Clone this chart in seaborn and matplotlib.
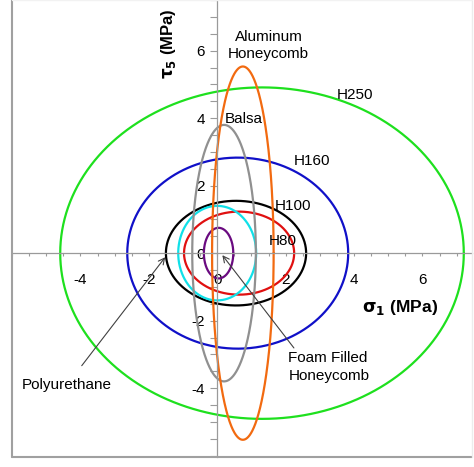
import numpy as np
import pandas as pd
import seaborn as sns
import matplotlib
matplotlib.use("Agg")
import matplotlib.pyplot as plt
from matplotlib.ticker import MultipleLocator
from matplotlib.lines import Line2D

# ---- data (ellipse envelopes) ----
series = ["H250", "H160", "H100", "H80", "Polyurethane", "Foam Filled Honeycomb", "Balsa", "Aluminum Honeycomb"]
center_x = [1.31, 0.60, 0.55, 0.64, 0.00, 0.04, 0.20, 0.75]
semi_x = [5.90, 3.23, 2.05, 1.61, 1.14, 0.43, 0.93, 0.90]
semi_y = [4.91, 2.83, 1.55, 1.23, 1.40, 0.75, 3.80, 5.53]
colors = ["#1ee01e", "#1010c8", "#000000", "#e01010", "#10e0e8", "#6a0a80", "#909090", "#f26a10"]

x_ticks = [-4, -2, 0, 2, 4, 6]
y_ticks = [-4, -2, 0, 2, 4, 6]

t = np.linspace(0, 2 * np.pi, 721)
frames = []
for name, cx, a, b in zip(series, center_x, semi_x, semi_y):
    frames.append(pd.DataFrame({"s1": cx + a * np.cos(t), "t5": b * np.sin(t), "series": name}))
df = pd.concat(frames, ignore_index=True)

sns.set_theme(style="white")
plt.rcParams["font.family"] = ["Liberation Sans", "DejaVu Sans"]
plt.rcParams["mathtext.fontset"] = "dejavusans"
plt.rcParams["text.color"] = "black"
plt.rcParams["xtick.labelcolor"] = "black"
plt.rcParams["ytick.labelcolor"] = "black"

fig = plt.figure(figsize=(4.74, 4.67), dpi=100)
ax = fig.add_axes([12 / 474, 10 / 467, 460 / 474, 457 / 467])

sns.lineplot(data=df, x="s1", y="t5", hue="series", hue_order=series,
             palette=dict(zip(series, colors)), sort=False, estimator=None,
             linewidth=1.6, legend=False, ax=ax)

ax.set_xlim(-6.0, 7.45)
ax.set_ylim(-6.04, 7.5)
ax.set_xlabel("")
ax.set_ylabel("")

for side in ["top", "right"]:
    ax.spines[side].set_visible(False)
for side in ["left", "bottom"]:
    ax.spines[side].set_position(("data", 0))
    ax.spines[side].set_color("#9a9a9a")
    ax.spines[side].set_linewidth(0.9)

ax.xaxis.set_major_locator(plt.FixedLocator(x_ticks))
ax.yaxis.set_major_locator(plt.FixedLocator(y_ticks))
ax.xaxis.set_minor_locator(MultipleLocator(0.5))
ax.yaxis.set_minor_locator(MultipleLocator(0.5))
ax.tick_params(axis="x", which="both", direction="out", length=2.5, width=0.8,
               color="#9a9a9a", pad=12, labelsize=11, labelcolor="black", bottom=True)
ax.tick_params(axis="y", which="both", direction="out", length=5, width=0.8,
               color="#9a9a9a", pad=4, labelsize=11, labelcolor="black", left=True)
ax.set_xticklabels([str(v) for v in x_ticks])
ax.set_yticklabels([str(v) for v in y_ticks])

# outer frame: strong left and bottom edges, faint right and top edges
for (xs, ys, col, lw) in [((0, 0), (0, 1), "#a0a0a0", 1.5),
                          ((0, 1), (0, 0), "#a0a0a0", 1.5),
                          ((1, 1), (0, 1), "#ececec", 1.0),
                          ((0, 1), (1, 1), "#f2f2f2", 1.0)]:
    ax.add_line(Line2D(xs, ys, transform=ax.transAxes, color=col, linewidth=lw,
                       clip_on=False, zorder=5))

fs = 11
ax.text(1.5, 6.15, "Aluminum\nHoneycomb", ha="center", va="center", fontsize=fs, linespacing=1.3)
ax.text(0.23, 3.96, "Balsa", ha="left", va="center", fontsize=fs)
ax.text(3.5, 4.7, "H250", ha="left", va="center", fontsize=fs)
ax.text(2.25, 2.72, "H160", ha="left", va="center", fontsize=fs)
ax.text(1.67, 1.39, "H100", ha="left", va="center", fontsize=fs)
ax.text(1.52, 0.36, "H80", ha="left", va="center", fontsize=fs)

ax.annotate("Polyurethane", xy=(-1.52, -0.12), xytext=(-4.39, -3.9),
            ha="center", va="center", fontsize=fs,
            arrowprops=dict(arrowstyle="->", color="#404040", lw=0.8,
                            shrinkA=8, shrinkB=0))
ax.annotate("Foam Filled\nHoneycomb", xy=(0.15, -0.06), xytext=(2.08, -3.37),
            ha="left", va="center", fontsize=fs, linespacing=1.3,
            arrowprops=dict(arrowstyle="->", color="#404040", lw=0.8,
                            shrinkA=0, shrinkB=0, relpos=(0.1, 1.0)))

ax.text(5.35, -1.6, r"$\mathbf{\sigma_1}$ (MPa)", ha="center", va="center",
        fontsize=12.5, fontweight="bold")
ax.text(-1.43, 6.2, r"$\mathbf{\tau_5}$ (MPa)", ha="center", va="center",
        fontsize=12, fontweight="bold", rotation=90)

fig.savefig("out.png", dpi=100)
